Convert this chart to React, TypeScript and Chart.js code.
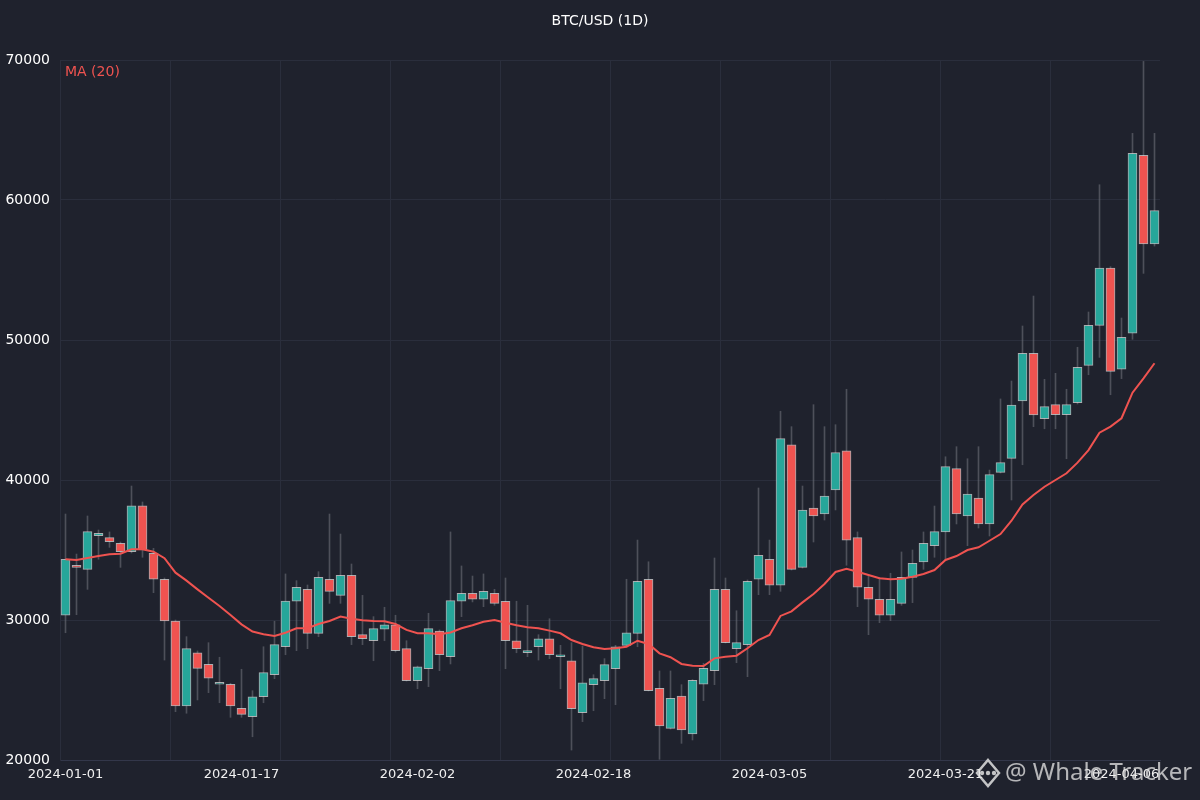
import React, { useEffect, useRef } from "react";
import { Chart, registerables } from "chart.js";

Chart.register(...registerables);

const TITLE = "BTC/USD (1D)";
const LEGEND_LABEL = "MA (20)";
const WATERMARK = "@ Whale Tracker";

const START_DATE = "2024-01-01";
const CANDLE_COUNT = 100;
const LABEL_EVERY = 16;
const GRID_EVERY = 10;

const Y_MIN = 20000;
const Y_MAX = 70000;
const Y_STEP = 10000;

const opens = [
  30340, 33910, 33620, 36020, 35880, 35480, 34880, 38160, 34760, 32910,
  29930, 23860, 27660, 26840, 25410, 25410, 23690, 23090, 24520, 26090,
  28090, 31340, 32190, 29050, 32910, 31760, 33190, 28950, 28520, 29340,
  29660, 27950, 25660, 26520, 29210, 27380, 31340, 31910, 31480, 31910,
  31340, 28520, 27660, 28090, 28660, 27380, 27090, 23380, 25380, 25660,
  26520, 28190, 29050, 32910, 25120, 22260, 24570, 21860, 25410, 26380,
  32190, 27950, 28240, 32910, 34340, 32480, 42520, 33760, 38000, 37570,
  39290, 42090, 35880, 32340, 31480, 30340, 31190, 33050, 34140, 35310,
  36290, 40810, 37430, 38710, 36860, 40540, 41540, 45640, 49050, 44380,
  45380, 44660, 45520, 48190, 51050, 55140, 47910, 50480, 63190, 56860,
];

const highs = [
  37570, 34710, 37430, 36430, 36290, 35570, 39570, 38430, 35120, 33000,
  30000, 28810, 27790, 28380, 27340, 25480, 26480, 24950, 28090, 29910,
  33290, 32810, 32500, 33450, 37570, 36140, 34000, 31760, 30240, 30910,
  30340, 28520, 26710, 30480, 29290, 36290, 33860, 33140, 33290, 32190,
  33000, 31340, 31050, 28950, 30090, 28190, 28380, 28140, 26090, 27240,
  28190, 32910, 35710, 34160, 26360, 26360, 25380, 25740, 26910, 34430,
  33000, 30660, 32860, 39430, 35710, 44910, 43810, 39570, 45380, 43810,
  43950, 46480, 36290, 33190, 33050, 33340, 34860, 35000, 36290, 38140,
  41660, 42380, 41520, 42380, 40710, 45790, 47070, 51000, 53140, 47190,
  47620, 46480, 49480, 52000, 61090, 55240, 51570, 64760, 69900, 64760,
];

const lows = [
  29090, 30380, 32190, 34340, 35190, 33760, 34790, 34480, 31950, 27140,
  23450, 23340, 24290, 24810, 24090, 23050, 23050, 21660, 24090, 25810,
  27520, 27810, 27950, 28810, 31190, 31190, 28240, 28240, 27090, 28520,
  27710, 25640, 25090, 25240, 26380, 26860, 30240, 31290, 30950, 31050,
  26520, 27660, 27380, 27140, 27240, 25090, 20710, 22740, 23520, 24380,
  23950, 28090, 28090, 24930, 20050, 22210, 21190, 21430, 24240, 25380,
  28360, 26950, 25950, 31810, 31810, 32050, 33570, 33710, 35570, 37140,
  37860, 33910, 30950, 28950, 29810, 29950, 31050, 31240, 33620, 34480,
  34290, 36860, 35310, 36570, 36000, 40500, 38570, 41090, 43810, 43660,
  43660, 41520, 45430, 47520, 48760, 46090, 47240, 50050, 54760, 56710,
];

const closes = [
  34340, 33760, 36310, 36190, 35590, 34880, 38160, 35000, 32910, 29930,
  23860, 27950, 26550, 25840, 25550, 23860, 23260, 24520, 26240, 28240,
  31360, 32340, 29050, 33050, 32050, 33190, 28810, 28660, 29380, 29660,
  27810, 25660, 26660, 29380, 27520, 31380, 31910, 31480, 32050, 31190,
  28520, 27950, 27810, 28660, 27520, 27520, 23660, 25520, 25810, 26810,
  28090, 29090, 32760, 24950, 22430, 24410, 22140, 25690, 26550, 32190,
  28380, 28380, 32760, 34620, 32480, 42950, 33620, 37860, 37430, 38860,
  41950, 35710, 32340, 31480, 30340, 31480, 33050, 34050, 35480, 36310,
  40950, 37570, 39000, 36860, 40380, 41240, 45360, 49050, 44640, 45240,
  44660, 45380, 48050, 51050, 55140, 47760, 50190, 63340, 56860, 59240,
];

const maValues = [
  34340, 34290, 34430, 34570, 34690, 34740, 35050, 35050, 34880, 34410,
  33380, 32810, 32190, 31590, 31000, 30360, 29690, 29180, 28980, 28860,
  29090, 29410, 29410, 29710, 29930, 30240, 30090, 29980, 29930, 29910,
  29710, 29290, 29050, 29050, 28980, 29110, 29410, 29620, 29880, 30000,
  29810, 29620, 29480, 29410, 29240, 29050, 28570, 28290, 28050, 27930,
  27980, 28090, 28520, 28290, 27620, 27340, 26860, 26740, 26710, 27260,
  27380, 27450, 27980, 28570, 28930, 30290, 30620, 31260, 31860, 32570,
  33430, 33660, 33450, 33210, 32980, 32910, 32950, 33090, 33290, 33570,
  34290, 34570, 35000, 35190, 35660, 36140, 37090, 38250, 38930, 39520,
  40000, 40480, 41240, 42140, 43380, 43810, 44410, 46240, 47260, 48340,
];

function buildDates(start: string, n: number): string[] {
  const out: string[] = [];
  const d = new Date(start + "T00:00:00Z");
  for (let i = 0; i < n; i++) {
    const t = new Date(d.getTime() + i * 86400000);
    out.push(t.toISOString().slice(0, 10));
  }
  return out;
}

const categories = buildDates(START_DATE, CANDLE_COUNT);

const BG = "#1f222d";
const GRID = "#2a2e3c";
const UP = "#26a69a";
const DOWN = "#ef5350";

const overlayPlugin = {
  id: "overlay",
  beforeDraw(chart: any) {
    const { ctx, width, height } = chart;
    ctx.save();
    ctx.fillStyle = BG;
    ctx.fillRect(0, 0, width, height);
    ctx.restore();
  },
  afterDraw(chart: any) {
    const { ctx, chartArea } = chart;
    ctx.save();
    ctx.font = '14px "DejaVu Sans"';
    ctx.fillStyle = "#ffffff";
    ctx.textAlign = "center";
    ctx.textBaseline = "middle";
    ctx.fillText(TITLE, chart.width / 2, 21);

    ctx.font = '14px "DejaVu Sans"';
    ctx.fillStyle = DOWN;
    ctx.textAlign = "left";
    ctx.fillText(LEGEND_LABEL, chartArea.left + 5, chartArea.top + 12);

    // watermark
    const cx = 988;
    const cy = 773;
    ctx.strokeStyle = "rgba(225,225,225,0.85)";
    ctx.fillStyle = "rgba(225,225,225,0.85)";
    ctx.lineWidth = 2.5;
    ctx.beginPath();
    ctx.moveTo(cx, cy - 13);
    ctx.lineTo(cx + 11, cy);
    ctx.lineTo(cx, cy + 13);
    ctx.lineTo(cx - 11, cy);
    ctx.closePath();
    ctx.stroke();
    for (const dx of [-6, 0, 6]) {
      ctx.beginPath();
      ctx.arc(cx + dx, cy, 2.2, 0, Math.PI * 2);
      ctx.fill();
    }
    ctx.font = '24px "Noto Sans"';
    ctx.fillStyle = "rgba(220,220,220,0.8)";
    ctx.textAlign = "left";
    ctx.textBaseline = "middle";
    ctx.fillText(WATERMARK, 1005, cy);
    ctx.restore();
  },
};

export default function App() {
  const ref = useRef<HTMLCanvasElement | null>(null);

  useEffect(() => {
    document.body.style.margin = "0";
    document.body.style.background = BG;
    if (!ref.current) return;

    const bodies = opens.map((o, i) => [o, closes[i]]);
    const wicks = lows.map((l, i) => [l, highs[i]]);
    const bodyColors = opens.map((o, i) => (closes[i] >= o ? UP : DOWN));

    const chart = new Chart(ref.current, {
      type: "bar",
      data: {
        labels: categories,
        datasets: [
          {
            type: "line",
            label: LEGEND_LABEL,
            data: maValues,
            borderColor: DOWN,
            borderWidth: 2,
            pointRadius: 0,
            tension: 0,
            fill: false,
            order: 0,
          } as any,
          {
            label: "body",
            data: bodies as any,
            backgroundColor: bodyColors,
            borderColor: "rgba(220,220,220,0.75)",
            borderWidth: 1,
            borderSkipped: false,
            barThickness: 9,
            grouped: false,
            order: 1,
          } as any,
          {
            label: "wick",
            data: wicks as any,
            backgroundColor: "rgba(110,112,120,0.6)",
            borderWidth: 0,
            barThickness: 1,
            grouped: false,
            order: 2,
          } as any,
        ],
      },
      options: {
        responsive: false,
        animation: false,
        events: [],
        layout: { padding: { top: 60, right: 40, left: 0, bottom: 0 } },
        plugins: {
          legend: { display: false },
          title: { display: false },
          tooltip: { enabled: false },
        },
        scales: {
          x: {
            type: "category",
            offset: true,
            grid: {
              offset: true,
              drawTicks: false,
              color: (c: any) => (c.index % GRID_EVERY === 0 ? GRID : "rgba(0,0,0,0)"),
            },
            border: { color: "#33374a", width: 1 },
            ticks: {
              autoSkip: false,
              maxRotation: 0,
              minRotation: 0,
              color: "#f0f0f0",
              padding: 7,
              font: { family: '"DejaVu Sans"', size: 13 },
              callback: (_v: any, i: number) => (i % LABEL_EVERY === 0 ? categories[i] : ""),
            },
            afterFit: (s: any) => {
              s.height = 40;
            },
          },
          y: {
            min: Y_MIN,
            max: Y_MAX,
            grid: { color: GRID, drawTicks: false },
            border: { color: GRID },
            ticks: {
              stepSize: Y_STEP,
              color: "#ffffff",
              padding: 10,
              font: { family: '"DejaVu Sans"', size: 14 },
              callback: (v: any) => String(v),
            },
            afterFit: (s: any) => {
              s.width = 60;
            },
          },
        },
      },
      plugins: [overlayPlugin],
    });

    return () => chart.destroy();
  }, []);

  return (
    <div style={{ position: "fixed", left: 0, top: 0, width: 1200, height: 800, background: BG }}>
      <canvas ref={ref} width={1200} height={800} />
    </div>
  );
}
